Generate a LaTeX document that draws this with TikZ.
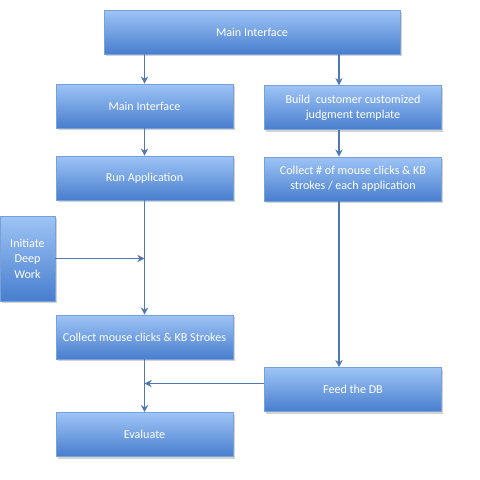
\documentclass[tikz,border=0pt]{standalone}
\usepackage{fontspec}
\setmainfont{Carlito}
\usetikzlibrary{arrows.meta,positioning,calc,shadows}
\definecolor{boxtop}{RGB}{158,196,246}
\definecolor{boxbot}{RGB}{72,126,206}
\definecolor{boxline}{RGB}{120,160,220}
\definecolor{arcol}{RGB}{80,120,180}
\tikzset{
  pbox/.style={rectangle,draw=boxline,line width=0.4pt,top color=boxtop,bottom color=boxbot,
    minimum width=44.25mm,minimum height=11mm,inner sep=2pt,align=center,text=white,
    font=\fontsize{8.6}{11}\selectfont,
    drop shadow={shadow xshift=0.4mm,shadow yshift=-0.6mm,opacity=0.35}},
  wbox/.style={pbox,minimum width=74mm},
  sbox/.style={pbox,minimum width=13.75mm,minimum height=21.25mm},
  ar/.style={-{Stealth[length=1.8mm,width=1.8mm]},draw=arcol,fill=arcol,line width=1pt}
}
\begin{document}
\begin{tikzpicture}
\useasboundingbox (0,0) rectangle (12,-12);
\node[wbox] (top) at (6.3,-0.8) {Main Interface};
\node[pbox] (main) at (3.6125,-2.65) {Main Interface};
\node[pbox] (build) at (8.825,-2.69) {Build\ \ customer customized\\judgment template};
\node[pbox] (run) at (3.6125,-4.45) {Run Application};
\node[pbox] (count) at (8.825,-4.475) {Collect \# of mouse clicks \& KB\\strokes / each application};
\node[sbox] (deep) at (0.6875,-6.4625) {Initiate\\Deep\\Work};
\node[pbox] (clicks) at (3.6125,-8.425) {Collect mouse clicks \& KB Strokes};
\node[pbox] (feed) at (8.825,-9.7375) {Feed the DB};
\node[pbox] (eval) at (3.6125,-10.8625) {Evaluate};
% right column runs left of the box centres
\coordinate (rx) at (8.475,0);
\draw[ar] (top.south -| main.north) -- (main.north);
\draw[ar] (top.south -| rx) -- (build.north -| rx);
\draw[ar] (main) -- (run);
\draw[ar] (build.south -| rx) -- (count.north -| rx);
\draw[ar] (run) -- (clicks);
\draw[ar] (count.south -| rx) -- (feed.north -| rx);
\draw[ar] (deep.east) -- (deep.east -| run.south);
\draw[ar] (clicks) -- (eval);
\draw[ar] ([yshift=1.5mm]feed.west) -- ([yshift=1.5mm]feed.west -| clicks.south);
\end{tikzpicture}
\end{document}
